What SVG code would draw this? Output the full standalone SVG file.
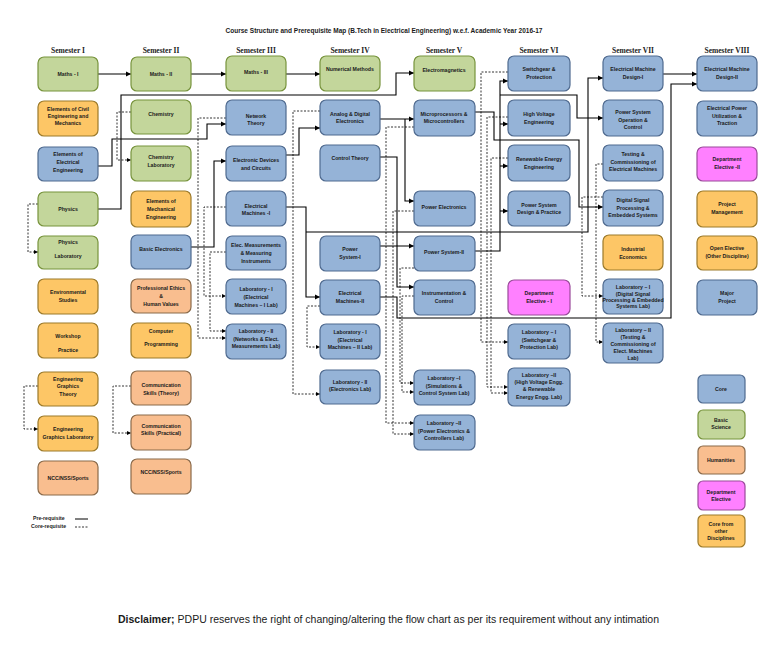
<svg xmlns="http://www.w3.org/2000/svg" width="768" height="657" viewBox="0 0 768 657">
<defs>
<marker id="a" viewBox="0 0 6 6" refX="6" refY="3" markerWidth="5" markerHeight="5" orient="auto"><path d="M0,0L6,3L0,6z" fill="#000"/></marker>
</defs>
<style>
text{font-family:"Liberation Sans",Arial,sans-serif;font-weight:bold;fill:#1a1a1a}
.n text{font-size:5.2px;text-anchor:middle}
.h{font-family:"Liberation Serif",serif;font-size:7.5px;text-anchor:middle;fill:#222}
rect{stroke-width:1.2}
.g{fill:#c3d69b;stroke:#77933c}
.b{fill:#95b3d7;stroke:#4f6a8f}
.o{fill:#fdc666;stroke:#9c7a2a}
.p{fill:#f9be8f;stroke:#8a6a4a}
.m{fill:#ff80ff;stroke:#9a4a9a}
.s{fill:none;stroke:#000;stroke-width:1.1;marker-end:url(#a)}
.d{fill:none;stroke:#000;stroke-width:0.8;stroke-dasharray:2,1.5;marker-end:url(#a)}
</style>
<rect width="768" height="657" fill="#fff"/>
<text x="384" y="33" font-size="6.5" text-anchor="middle">Course Structure and Prerequisite Map (B.Tech in Electrical Engineering) w.e.f. Academic Year 2016-17</text>
<g class="h-g">
<text class="h" x="68" y="53">Semester I</text><text class="h" x="161" y="53">Semester II</text><text class="h" x="256" y="53">Semester III</text><text class="h" x="350" y="53">Semester IV</text><text class="h" x="444" y="53">Semester V</text><text class="h" x="539" y="53">Semester VI</text><text class="h" x="633" y="53">Semester VII</text><text class="h" x="727" y="53">Semester VIII</text>
</g>
<g id="connectors">
<path class="s" d="M98,74H131"/><path class="s" d="M191,74H226"/><path class="s" d="M286,74H320"/>
<path class="s" d="M98,209H121V95H396V73H414"/>
<path class="s" d="M98,166H112V139H207V124H226"/>
<path class="s" d="M191,247H214V161H226"/>
<path class="s" d="M286,155H299V128H320"/>
<path class="s" d="M286,207H306V297H320"/>
<path class="s" d="M306,232H588V78H603"/>
<path class="s" d="M380,119H414"/><path class="s" d="M405,119V201H414"/>
<path class="s" d="M380,157H397V287H414"/>
<path class="s" d="M380,246H414"/>
<path class="s" d="M475,251H500V81H508"/><path class="s" d="M500,124H508"/><path class="s" d="M500,166H508"/><path class="s" d="M500,211H508"/>
<path class="s" d="M500,95H577V118H603" stroke="#888"/>
<path class="s" d="M475,112H494V140H579V207H603"/>
<path class="s" d="M380,297H397V318H671V84H697"/>
<path class="s" d="M663,74H697"/>
<path class="d" d="M38,204H28V252H38"/>
<path class="d" d="M131,112H117V160H131"/>
<path class="d" d="M38,386H24V429H38"/>
<path class="d" d="M131,386H113V433H131"/>
<path class="d" d="M226,118H198V338H226"/>
<path class="d" d="M226,207H204V296H226"/>
<path class="d" d="M226,252H210V331H226"/>
<path class="d" d="M320,111H293V394H320"/>
<path class="d" d="M320,306H307V347H320"/>
<path class="d" d="M414,127H386V423H414"/>
<path class="d" d="M414,211H393V434H414"/>
<path class="d" d="M414,296H402V392H414"/>
<path class="d" d="M414,268H400V383H414"/>
<path class="d" d="M508,72H481V342H508"/>
<path class="d" d="M508,117H487V387H508"/>
<path class="d" d="M508,158H491V393H508"/>
<path class="d" d="M603,197H582V296H603"/>
<path class="d" d="M603,164H596V342H603"/>
</g>
<g class="n">
<g id="s1-maths"><rect class="g" x="38" y="57" width="60" height="34" rx="6"/><text x="68" y="76">Maths - I</text></g>
<g id="s1-civil"><rect class="o" x="38" y="101" width="60" height="35" rx="6"/><text x="68" y="111">Elements of Civil</text><text x="68" y="118">Engineering and</text><text x="68" y="125">Mechanics</text></g>
<g id="s1-eee"><rect class="b" x="38" y="147" width="60" height="34" rx="6"/><text x="68" y="156">Elements of</text><text x="68" y="164">Electrical</text><text x="68" y="172">Engineering</text></g>
<g id="s1-phy"><rect class="g" x="38" y="192" width="60" height="34" rx="6"/><text x="68" y="211">Physics</text></g>
<g id="s1-phylab"><rect class="g" x="38" y="236" width="60" height="33" rx="6"/><text x="68" y="244">Physics</text><text x="68" y="258">Laboratory</text></g>
<g id="s1-env"><rect class="o" x="38" y="279" width="60" height="35" rx="6"/><text x="68" y="294">Environmental</text><text x="68" y="302">Studies</text></g>
<g id="s1-ws"><rect class="o" x="38" y="323" width="60" height="35" rx="6"/><text x="68" y="338">Workshop</text><text x="68" y="352">Practice</text></g>
<g id="s1-egt"><rect class="o" x="38" y="372" width="60" height="34" rx="6"/><text x="68" y="381">Engineering</text><text x="68" y="388">Graphics</text><text x="68" y="396">Theory</text></g>
<g id="s1-egl"><rect class="o" x="38" y="416" width="60" height="35" rx="6"/><text x="68" y="431">Engineering</text><text x="68" y="439">Graphics Laboratory</text></g>
<g id="s1-ncc"><rect class="p" x="38" y="461" width="60" height="34" rx="6"/><text x="68" y="480">NCC/NSS/Sports</text></g>

<g id="s2-maths"><rect class="g" x="131" y="57" width="60" height="34" rx="6"/><text x="161" y="76">Maths - II</text></g>
<g id="s2-chem"><rect class="g" x="131" y="100" width="60" height="34" rx="6"/><text x="161" y="116">Chemistry</text></g>
<g id="s2-chemlab"><rect class="g" x="131" y="146" width="60" height="35" rx="6"/><text x="161" y="159">Chemistry</text><text x="161" y="167">Laboratory</text></g>
<g id="s2-mech"><rect class="o" x="131" y="191" width="60" height="36" rx="6"/><text x="161" y="203">Elements of</text><text x="161" y="211">Mechanical</text><text x="161" y="219">Engineering</text></g>
<g id="s2-be"><rect class="b" x="131" y="235" width="60" height="34" rx="6"/><text x="161" y="251">Basic Electronics</text></g>
<g id="s2-ethics"><rect class="p" x="131" y="279" width="60" height="34" rx="6"/><text x="161" y="290">Professional Ethics</text><text x="161" y="298">&amp;</text><text x="161" y="306">Human Values</text></g>
<g id="s2-cp"><rect class="o" x="131" y="323" width="60" height="35" rx="6"/><text x="161" y="333">Computer</text><text x="161" y="346">Programming</text></g>
<g id="s2-ct"><rect class="p" x="131" y="371" width="60" height="34" rx="6"/><text x="161" y="387">Communication</text><text x="161" y="395">Skills (Theory)</text></g>
<g id="s2-cpr"><rect class="p" x="131" y="415" width="60" height="35" rx="6"/><text x="161" y="428">Communication</text><text x="161" y="435">Skills (Practical)</text></g>
<g id="s2-ncc"><rect class="p" x="131" y="459" width="60" height="35" rx="6"/><text x="161" y="474">NCC/NSS/Sports</text></g>

<g id="s3-maths"><rect class="g" x="226" y="56" width="60" height="35" rx="6"/><text x="256" y="74">Maths - III</text></g>
<g id="s3-nt"><rect class="b" x="226" y="100" width="60" height="35" rx="6"/><text x="256" y="118">Network</text><text x="256" y="125">Theory</text></g>
<g id="s3-edc"><rect class="b" x="226" y="146" width="60" height="35" rx="6"/><text x="256" y="162">Electronic Devices</text><text x="256" y="170">and Circuits</text></g>
<g id="s3-em1"><rect class="b" x="226" y="191" width="60" height="35" rx="6"/><text x="256" y="208">Electrical</text><text x="256" y="215">Machines -I</text></g>
<g id="s3-meas"><rect class="b" x="226" y="236" width="60" height="34" rx="6"/><text x="256" y="247">Elec. Measurements</text><text x="256" y="255">&amp; Measuring</text><text x="256" y="263">Instruments</text></g>
<g id="s3-lab1"><rect class="b" x="226" y="279" width="60" height="35" rx="6"/><text x="256" y="291">Laboratory - I</text><text x="256" y="299">(Electrical</text><text x="256" y="307">Machines – I Lab)</text></g>
<g id="s3-lab2"><rect class="b" x="226" y="324" width="60" height="35" rx="6"/><text x="256" y="333">Laboratory - II</text><text x="256" y="341">(Networks &amp; Elect.</text><text x="256" y="348">Measurements Lab)</text></g>

<g id="s4-num"><rect class="g" x="320" y="56" width="60" height="35" rx="6"/><text x="350" y="71">Numerical Methods</text></g>
<g id="s4-ad"><rect class="b" x="320" y="100" width="60" height="35" rx="6"/><text x="350" y="116">Analog &amp; Digital</text><text x="350" y="123">Electronics</text></g>
<g id="s4-ct"><rect class="b" x="320" y="145" width="60" height="36" rx="6"/><text x="350" y="160">Control Theory</text></g>
<g id="s4-ps1"><rect class="b" x="320" y="236" width="60" height="35" rx="6"/><text x="350" y="251">Power</text><text x="350" y="259">System-I</text></g>
<g id="s4-em2"><rect class="b" x="320" y="280" width="60" height="35" rx="6"/><text x="350" y="295">Electrical</text><text x="350" y="303">Machines-II</text></g>
<g id="s4-lab1"><rect class="b" x="320" y="324" width="60" height="35" rx="6"/><text x="350" y="334">Laboratory - I</text><text x="350" y="342">(Electrical</text><text x="350" y="349">Machines – II Lab)</text></g>
<g id="s4-lab2"><rect class="b" x="320" y="370" width="60" height="34" rx="6"/><text x="350" y="384">Laboratory - II</text><text x="350" y="391">(Electronics Lab)</text></g>

<g id="s5-em"><rect class="g" x="414" y="56" width="61" height="35" rx="6"/><text x="444" y="72">Electromagnetics</text></g>
<g id="s5-mp"><rect class="b" x="414" y="100" width="61" height="36" rx="6"/><text x="444" y="116">Microprocessors &amp;</text><text x="444" y="123">Microcontrollers</text></g>
<g id="s5-pe"><rect class="b" x="414" y="191" width="61" height="35" rx="6"/><text x="444" y="209">Power Electronics</text></g>
<g id="s5-ps2"><rect class="b" x="414" y="236" width="61" height="35" rx="6"/><text x="444" y="254">Power System-II</text></g>
<g id="s5-ic"><rect class="b" x="414" y="280" width="61" height="35" rx="6"/><text x="444" y="295">Instrumentation &amp;</text><text x="444" y="303">Control</text></g>
<g id="s5-lab1"><rect class="b" x="414" y="370" width="61" height="35" rx="6"/><text x="444" y="380">Laboratory –I</text><text x="444" y="388">(Simulations &amp;</text><text x="444" y="395">Control System Lab)</text></g>
<g id="s5-lab2"><rect class="b" x="414" y="415" width="61" height="35" rx="6"/><text x="444" y="425">Laboratory –II</text><text x="444" y="433">(Power Electronics &amp;</text><text x="444" y="440">Controllers Lab)</text></g>

<g id="s6-sg"><rect class="b" x="508" y="56" width="62" height="35" rx="6"/><text x="539" y="71">Switchgear &amp;</text><text x="539" y="79">Protection</text></g>
<g id="s6-hv"><rect class="b" x="508" y="100" width="62" height="36" rx="6"/><text x="539" y="116">High Voltage</text><text x="539" y="124">Engineering</text></g>
<g id="s6-re"><rect class="b" x="508" y="145" width="62" height="36" rx="6"/><text x="539" y="161">Renewable Energy</text><text x="539" y="169">Engineering</text></g>
<g id="s6-psd"><rect class="b" x="508" y="191" width="62" height="35" rx="6"/><text x="539" y="207">Power System</text><text x="539" y="214">Design &amp; Practice</text></g>
<g id="s6-de"><rect class="m" x="508" y="280" width="62" height="35" rx="6"/><text x="539" y="295">Department</text><text x="539" y="303">Elective - I</text></g>
<g id="s6-lab1"><rect class="b" x="508" y="324" width="62" height="35" rx="6"/><text x="539" y="334">Laboratory  – I</text><text x="539" y="342">(Switchgear &amp;</text><text x="539" y="349">Protection Lab)</text></g>
<g id="s6-lab2"><rect class="b" x="508" y="368" width="62" height="38" rx="6"/><text x="539" y="377">Laboratory –II</text><text x="539" y="384">(High Voltage Engg.</text><text x="539" y="391">&amp; Renewable</text><text x="539" y="399">Energy Engg. Lab)</text></g>

<g id="s7-emd1"><rect class="b" x="603" y="56" width="60" height="35" rx="6"/><text x="633" y="71">Electrical Machine</text><text x="633" y="79">Design-I</text></g>
<g id="s7-psoc"><rect class="b" x="603" y="100" width="60" height="36" rx="6"/><text x="633" y="114">Power System</text><text x="633" y="122">Operation &amp;</text><text x="633" y="129">Control</text></g>
<g id="s7-test"><rect class="b" x="603" y="145" width="60" height="36" rx="6"/><text x="633" y="156">Testing &amp;</text><text x="633" y="164">Commissioning of</text><text x="633" y="171">Electrical Machines</text></g>
<g id="s7-dsp"><rect class="b" x="603" y="190" width="60" height="36" rx="6"/><text x="633" y="202">Digital Signal</text><text x="633" y="210">Processing &amp;</text><text x="633" y="217">Embedded Systems</text></g>
<g id="s7-ie"><rect class="o" x="603" y="235" width="60" height="35" rx="6"/><text x="633" y="251">Industrial</text><text x="633" y="259">Economics</text></g>
<g id="s7-lab1"><rect class="b" x="603" y="279" width="60" height="35" rx="6"/><text x="633" y="289">Laboratory – I</text><text x="633" y="296">(Digital Signal</text><text x="633" y="302" font-size="4.6">Processing &amp; Embedded</text><text x="633" y="308">Systems Lab)</text></g>
<g id="s7-lab2"><rect class="b" x="603" y="323" width="60" height="40" rx="6"/><text x="633" y="332">Laboratory – II</text><text x="633" y="339">(Testing &amp;</text><text x="633" y="346">Commissioning of</text><text x="633" y="353">Elect. Machines</text><text x="633" y="360">Lab)</text></g>

<g id="s8-emd2"><rect class="b" x="697" y="56" width="60" height="35" rx="6"/><text x="727" y="71">Electrical Machine</text><text x="727" y="79">Design-II</text></g>
<g id="s8-epu"><rect class="b" x="697" y="101" width="60" height="35" rx="6"/><text x="727" y="110">Electrical Power</text><text x="727" y="118">Utilization &amp;</text><text x="727" y="125">Traction</text></g>
<g id="s8-de"><rect class="m" x="697" y="147" width="60" height="34" rx="6"/><text x="727" y="161">Department</text><text x="727" y="169">Elective -II</text></g>
<g id="s8-pm"><rect class="o" x="697" y="191" width="60" height="36" rx="6"/><text x="727" y="206">Project</text><text x="727" y="214">Management</text></g>
<g id="s8-oe"><rect class="o" x="697" y="236" width="60" height="34" rx="6"/><text x="727" y="250">Open Elective</text><text x="727" y="258">(Other Discipline)</text></g>
<g id="s8-mp"><rect class="b" x="697" y="280" width="60" height="35" rx="6"/><text x="727" y="295">Major</text><text x="727" y="303">Project</text></g>

<g id="leg-core"><rect class="b" x="698" y="375" width="47" height="28" rx="5"/><text x="721" y="391">Core</text></g>
<g id="leg-bs"><rect class="g" x="698" y="410" width="47" height="29" rx="5"/><text x="721" y="422">Basic</text><text x="721" y="429">Science</text></g>
<g id="leg-hum"><rect class="p" x="698" y="446" width="47" height="28" rx="5"/><text x="721" y="462">Humanities</text></g>
<g id="leg-de"><rect class="m" x="698" y="481" width="47" height="29" rx="5"/><text x="721" y="494">Department</text><text x="721" y="501">Elective</text></g>
<g id="leg-cod"><rect class="o" x="698" y="515" width="47" height="32" rx="5"/><text x="721" y="526">Core from</text><text x="721" y="533">other</text><text x="721" y="540">Disciplines</text></g>
</g>
<g id="legend">
<text x="33" y="520" font-size="5.2">Pre-requisite</text><path d="M75,519H88" stroke="#000" stroke-width="1"/>
<text x="31" y="528" font-size="5.2">Core-requisite</text><path d="M75,527H88" stroke="#000" stroke-width="0.8" stroke-dasharray="2,1.5"/>
</g>
<text x="118" y="623" font-size="10.5" font-weight="normal" style="font-weight:normal"><tspan font-weight="bold" style="font-weight:bold">Disclaimer;</tspan> PDPU reserves the right of changing/altering the flow chart as per its requirement without any intimation</text>
</svg>
